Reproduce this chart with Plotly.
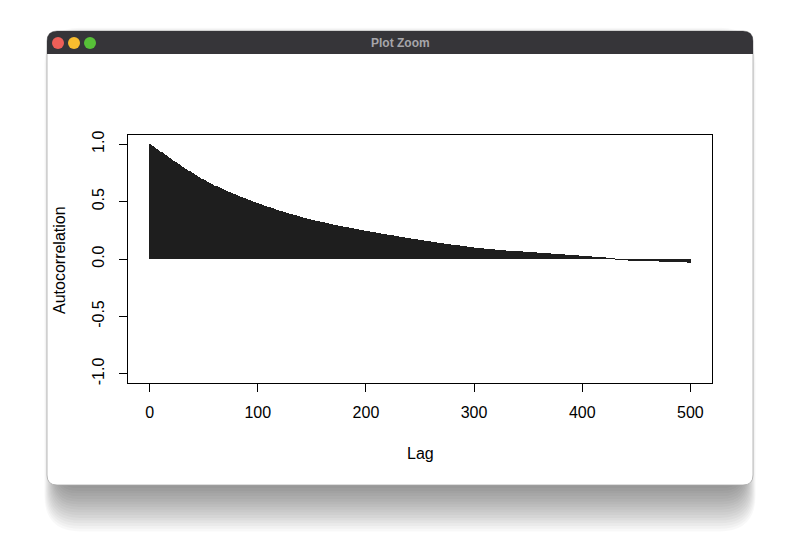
import plotly.graph_objects as go

# ---------------- data ----------------
lags = list(range(0, 501))
acf_values = [
    1.000, 0.994, 0.987, 0.981, 0.974, 0.968, 0.961, 0.955, 0.948, 0.942,
    0.935, 0.929, 0.922, 0.916, 0.909, 0.903, 0.896, 0.890, 0.883, 0.877,
    0.870, 0.864, 0.857, 0.851, 0.844, 0.838, 0.831, 0.825, 0.818, 0.812,
    0.805, 0.799, 0.793, 0.787, 0.781, 0.775, 0.769, 0.763, 0.757, 0.751,
    0.745, 0.740, 0.734, 0.729, 0.723, 0.718, 0.712, 0.707, 0.701, 0.696,
    0.690, 0.685, 0.680, 0.675, 0.670, 0.665, 0.660, 0.655, 0.650, 0.645,
    0.640, 0.636, 0.632, 0.627, 0.623, 0.619, 0.615, 0.611, 0.606, 0.602,
    0.598, 0.594, 0.590, 0.586, 0.582, 0.578, 0.574, 0.570, 0.566, 0.562,
    0.558, 0.554, 0.550, 0.547, 0.543, 0.539, 0.535, 0.531, 0.528, 0.524,
    0.520, 0.517, 0.513, 0.510, 0.506, 0.503, 0.499, 0.496, 0.492, 0.489,
    0.485, 0.482, 0.478, 0.475, 0.472, 0.469, 0.465, 0.462, 0.459, 0.455,
    0.452, 0.449, 0.446, 0.443, 0.440, 0.437, 0.433, 0.430, 0.427, 0.424,
    0.421, 0.418, 0.415, 0.413, 0.410, 0.407, 0.404, 0.401, 0.399, 0.396,
    0.393, 0.390, 0.388, 0.385, 0.382, 0.380, 0.377, 0.374, 0.371, 0.369,
    0.366, 0.364, 0.361, 0.359, 0.356, 0.354, 0.352, 0.349, 0.347, 0.344,
    0.342, 0.340, 0.338, 0.335, 0.333, 0.331, 0.329, 0.327, 0.324, 0.322,
    0.320, 0.318, 0.316, 0.314, 0.312, 0.310, 0.307, 0.305, 0.303, 0.301,
    0.299, 0.297, 0.295, 0.293, 0.291, 0.290, 0.288, 0.286, 0.284, 0.282,
    0.280, 0.278, 0.276, 0.275, 0.273, 0.271, 0.269, 0.267, 0.266, 0.264,
    0.262, 0.260, 0.259, 0.257, 0.255, 0.254, 0.252, 0.250, 0.248, 0.247,
    0.245, 0.243, 0.242, 0.240, 0.238, 0.237, 0.235, 0.233, 0.231, 0.230,
    0.228, 0.226, 0.225, 0.223, 0.222, 0.220, 0.218, 0.217, 0.215, 0.214,
    0.212, 0.211, 0.209, 0.208, 0.206, 0.205, 0.203, 0.202, 0.200, 0.199,
    0.197, 0.195, 0.194, 0.192, 0.191, 0.189, 0.187, 0.186, 0.184, 0.183,
    0.181, 0.180, 0.178, 0.177, 0.175, 0.174, 0.172, 0.171, 0.169, 0.168,
    0.166, 0.165, 0.163, 0.162, 0.160, 0.159, 0.157, 0.156, 0.154, 0.153,
    0.151, 0.150, 0.148, 0.147, 0.146, 0.145, 0.143, 0.142, 0.141, 0.139,
    0.138, 0.137, 0.135, 0.134, 0.133, 0.132, 0.130, 0.129, 0.128, 0.126,
    0.125, 0.124, 0.123, 0.121, 0.120, 0.119, 0.118, 0.117, 0.115, 0.114,
    0.113, 0.112, 0.110, 0.109, 0.108, 0.107, 0.105, 0.104, 0.103, 0.101,
    0.100, 0.099, 0.098, 0.097, 0.096, 0.095, 0.094, 0.093, 0.092, 0.091,
    0.090, 0.089, 0.088, 0.087, 0.086, 0.086, 0.085, 0.084, 0.083, 0.082,
    0.081, 0.080, 0.080, 0.079, 0.078, 0.078, 0.077, 0.076, 0.075, 0.075,
    0.074, 0.073, 0.073, 0.072, 0.072, 0.071, 0.070, 0.070, 0.069, 0.069,
    0.068, 0.067, 0.067, 0.066, 0.066, 0.065, 0.064, 0.064, 0.063, 0.063,
    0.062, 0.061, 0.061, 0.060, 0.059, 0.059, 0.058, 0.057, 0.056, 0.056,
    0.055, 0.054, 0.054, 0.053, 0.052, 0.052, 0.051, 0.050, 0.049, 0.049,
    0.048, 0.047, 0.047, 0.046, 0.046, 0.045, 0.044, 0.044, 0.043, 0.043,
    0.042, 0.041, 0.041, 0.040, 0.039, 0.039, 0.038, 0.037, 0.036, 0.036,
    0.035, 0.034, 0.034, 0.033, 0.032, 0.032, 0.031, 0.030, 0.029, 0.029,
    0.028, 0.027, 0.026, 0.026, 0.025, 0.024, 0.023, 0.022, 0.022, 0.021,
    0.020, 0.019, 0.018, 0.017, 0.016, 0.015, 0.014, 0.013, 0.012, 0.011,
    0.010, 0.009, 0.008, 0.007, 0.006, 0.005, 0.004, 0.003, 0.002, 0.001,
    0.000, -0.001, -0.001, -0.002, -0.003, -0.004, -0.004, -0.005, -0.006, -0.006,
    -0.007, -0.008, -0.008, -0.009, -0.009, -0.010, -0.010, -0.011, -0.011, -0.012,
    -0.012, -0.013, -0.013, -0.014, -0.014, -0.015, -0.015, -0.016, -0.016, -0.017,
    -0.017, -0.017, -0.018, -0.018, -0.019, -0.019, -0.019, -0.020, -0.020, -0.021,
    -0.021, -0.021, -0.022, -0.022, -0.023, -0.023, -0.023, -0.024, -0.024, -0.025,
    -0.025, -0.025, -0.026, -0.026, -0.026, -0.027, -0.027, -0.027, -0.028, -0.028,
    -0.028, -0.028, -0.029, -0.029, -0.029, -0.030, -0.030, -0.030, -0.031, -0.031,
    -0.031,
]
x_tick_values = [0, 100, 200, 300, 400, 500]
y_tick_values = [-1.0, -0.5, 0.0, 0.5, 1.0]
y_tick_labels = ["-1.0", "-0.5", "0.0", "0.5", "1.0"]
x_title = "Lag"
y_title = "Autocorrelation"
window_title = "Plot Zoom"

# ---------------- layout geometry (page pixels) ----------------
PAGE_W, PAGE_H = 800, 546
OFF = 8                            # default page body margin
L, R, T, B = 128, 712, 135, 383    # plot box in page pixels


def px(x):
    return (x - L) / (R - L)


def py(y):
    return (B - y) / (B - T)


def rrect(x0, y0, x1, y1, r, top=True, bottom=True):
    rt = r if top else 0
    rb = r if bottom else 0
    pts = [f"M{px(x0 + rt)},{py(y0)}", f"L{px(x1 - rt)},{py(y0)}"]
    if rt:
        pts.append(f"Q{px(x1)},{py(y0)} {px(x1)},{py(y0 + rt)}")
    pts.append(f"L{px(x1)},{py(y1 - rb)}")
    if rb:
        pts.append(f"Q{px(x1)},{py(y1)} {px(x1 - rb)},{py(y1)}")
    pts.append(f"L{px(x0 + rb)},{py(y1)}")
    if rb:
        pts.append(f"Q{px(x0)},{py(y1)} {px(x0)},{py(y1 - rb)}")
    pts.append(f"L{px(x0)},{py(y0 + rt)}")
    if rt:
        pts.append(f"Q{px(x0)},{py(y0)} {px(x0 + rt)},{py(y0)}")
    pts.append("Z")
    return " ".join(pts)


shapes = []
# soft window shadow
N = 22
for k in range(1, N + 1):
    shapes.append(dict(
        type="path", xref="paper", yref="paper", layer="below",
        path=rrect(62 - k * 0.8, 52 - k * 1.1, 738 + k * 0.8, 472 + k * 2.7, 14 + k),
        fillcolor="rgba(0,0,0,0.027)", line=dict(width=0),
    ))
# window body
shapes.append(dict(
    type="path", xref="paper", yref="paper", layer="below",
    path=rrect(47, 31, 753, 485, 10),
    fillcolor="#ffffff", line=dict(color="#a8a8a8", width=0.8),
))
# title bar
shapes.append(dict(
    type="path", xref="paper", yref="paper", layer="below",
    path=rrect(47, 31, 753, 54, 10, top=True, bottom=False),
    fillcolor="#363539", line=dict(width=0),
))
# traffic lights
for cx, col in [(58, "#ee5f58"), (74, "#f9bd2f"), (90, "#57c038")]:
    shapes.append(dict(
        type="circle", xref="paper", yref="paper", layer="below",
        x0=px(cx - 6), x1=px(cx + 6), y0=py(43 + 6), y1=py(43 - 6),
        fillcolor=col, line=dict(width=0),
    ))

fig = go.Figure()
fig.add_trace(go.Bar(
    x=lags, y=acf_values, width=0.9,
    marker=dict(color="#1e1e1e", line=dict(width=0)),
    hoverinfo="x+y",
))

font_family = "Liberation Sans, Arial, Helvetica, sans-serif"

fig.update_layout(
    width=PAGE_W - OFF, height=PAGE_H - OFF, autosize=False,
    margin=dict(l=L - OFF, r=PAGE_W - R, t=T - OFF, b=PAGE_H - B, pad=0),
    paper_bgcolor="#ffffff", plot_bgcolor="#ffffff",
    showlegend=False, bargap=0,
    shapes=shapes,
    font=dict(family=font_family, size=16, color="#000000"),
    annotations=[
        dict(text=x_title, xref="paper", yref="paper", x=px(420), y=py(453),
             showarrow=False, xanchor="center", yanchor="middle",
             font=dict(size=16, color="#000000")),
        dict(text=y_title, xref="paper", yref="paper", x=px(59), y=py(260),
             showarrow=False, xanchor="center", yanchor="middle", textangle=-90,
             font=dict(size=16, color="#000000")),
        dict(text="<b>" + window_title + "</b>", xref="paper", yref="paper",
             x=px(400), y=py(43), showarrow=False, xanchor="center", yanchor="middle",
             font=dict(size=12, color="#a6a5aa")),
    ],
)
fig.update_xaxes(
    range=[-20, 520], tickvals=x_tick_values, ticktext=[str(v) for v in x_tick_values],
    ticks="outside", ticklen=8, tickwidth=1, tickcolor="#000000",
    showline=True, linecolor="#000000", linewidth=1, mirror=True,
    showgrid=False, zeroline=False, ticklabelstandoff=7,
    tickfont=dict(size=16, color="#000000"),
)
fig.update_yaxes(
    range=[-1.08, 1.08], tickvals=y_tick_values, ticktext=y_tick_labels,
    tickangle=-90,
    ticks="outside", ticklen=8, tickwidth=1, tickcolor="#000000",
    showline=True, linecolor="#000000", linewidth=1, mirror=True,
    showgrid=False, zeroline=False, ticklabelstandoff=9,
    tickfont=dict(size=16, color="#000000"),
)

fig.write_html("out.html")
